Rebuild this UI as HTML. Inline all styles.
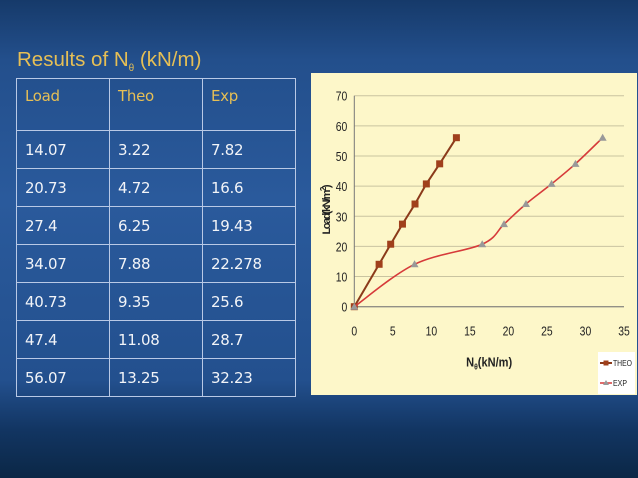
<!DOCTYPE html>
<html><head><meta charset="utf-8">
<style>
html,body{margin:0;padding:0}
body{width:638px;height:478px;overflow:hidden;position:relative;font-family:"Liberation Sans",sans-serif;
background:linear-gradient(180deg,#163a6a 0px,#234f8c 60px,#2a5a9c 200px,#23508e 380px,#123562 430px,#0b2746 478px);}
#title{position:absolute;left:17px;top:48px;font-size:20.5px;color:#e6bf55;}
#title sub{font-size:10px}
table{position:absolute;left:16px;top:78px;border-collapse:collapse;}
td{border:1px solid #b9c9e6;width:84px;padding:0 0 0 8px;font-size:15px;color:#f2f4f8;height:37px;font-family:"DejaVu Sans",sans-serif;letter-spacing:-0.3px}
tr.h td{color:#e6bf55;height:52px;vertical-align:top;padding-top:8px;box-sizing:border-box}
#chart{position:absolute;left:311px;top:73px;}
</style></head><body>
<div id="title">Results of N<sub>θ</sub> (kN/m)</div>
<table>
<tr class="h"><td>Load</td><td>Theo</td><td>Exp</td></tr>
<tr><td>14.07</td><td>3.22</td><td>7.82</td></tr>
<tr><td>20.73</td><td>4.72</td><td>16.6</td></tr>
<tr><td>27.4</td><td>6.25</td><td>19.43</td></tr>
<tr><td>34.07</td><td>7.88</td><td>22.278</td></tr>
<tr><td>40.73</td><td>9.35</td><td>25.6</td></tr>
<tr><td>47.4</td><td>11.08</td><td>28.7</td></tr>
<tr><td>56.07</td><td>13.25</td><td>32.23</td></tr>
</table>
<svg id="chart" width="326" height="322" font-family="'Liberation Sans',sans-serif"></svg>
<script>
const loads=[0,14.07,20.73,27.4,34.07,40.73,47.4,56.07];
const theo=[0,3.22,4.72,6.25,7.88,9.35,11.08,13.25];
const exp=[0,7.82,16.6,19.43,22.278,25.6,28.7,32.23];
const xTicks=[0,5,10,15,20,25,30,35];
const yTicks=[0,10,20,30,40,50,60,70];
const NS="http://www.w3.org/2000/svg";
const svg=document.getElementById('chart');
const ox=311,oy=73;
function X(v){return 354.3-ox+v*(624-354.3)/35;}
function Y(v){return 306.7-oy-v*(306.7-95.7)/70;}
function el(t,a,p){const e=document.createElementNS(NS,t);for(const k in a)e.setAttribute(k,a[k]);(p||svg).appendChild(e);return e;}
const bg=el('rect',{x:0,y:0,width:326,height:322,fill:'#fdf7c9'});


yTicks.forEach(t=>{
 const g=el('line',{x1:X(0),x2:X(35),y1:Y(t),y2:Y(t),stroke:'#c9c4a0','stroke-width':1});
 
 
 const l=el('text',{x:X(0)-7,y:Y(t)+5,'text-anchor':'end','font-size':13,fill:'#222',transform:'translate('+(X(0)-7)+',0) scale(0.8,1) translate('+(-(X(0)-7))+',0)'});
 l.textContent=t;
 
 
});
xTicks.forEach(t=>{
 const l=el('text',{x:X(t),y:Y(0)+29,'text-anchor':'middle','font-size':13,fill:'#222',transform:'translate('+X(t)+',0) scale(0.8,1) translate('+(-X(t))+',0)'});
 l.textContent=t;
 
 
});
el('line',{x1:X(0),x2:X(35),y1:Y(0),y2:Y(0),stroke:'#777'});
el('line',{x1:X(0),x2:X(0),y1:Y(0),y2:Y(70),stroke:'#777'});
const xt=el('text',{x:X(17.5),y:Y(0)+60,'text-anchor':'middle','font-size':13,'font-weight':'bold',fill:'#222',transform:'translate('+X(17.5)+',0) scale(0.85,1) translate('+(-X(17.5))+',0)'});
xt.innerHTML='N<tspan font-size="8" dy="3">θ</tspan><tspan dy="-3">(kN/m)</tspan>';


const yt=el('text',{transform:'translate(19,'+Y(32)+') rotate(-90)','text-anchor':'middle','font-size':11,'font-weight':'bold',fill:'#222','letter-spacing':'-1.5'});
yt.innerHTML='Load(kN/m<tspan dy="-4" font-size="8">2</tspan><tspan dy="4">)</tspan>';


const tp=theo.map((v,i)=>X(v)+','+Y(loads[i])).join(' ');
const tl=el('polyline',{points:tp,fill:'none',stroke:'#8b3a1a','stroke-width':2});


theo.forEach((v,i)=>{const m=el('rect',{x:X(v)-3.5,y:Y(loads[i])-3.5,width:7,height:7,fill:'#a0401c'});
 
 });
const P=exp.map((v,i)=>[X(v),Y(loads[i])]);
let d='M'+P[0][0]+','+P[0][1];
for(let i=0;i<P.length-1;i++){const p0=P[Math.max(0,i-1)],p1=P[i],p2=P[i+1],p3=P[Math.min(P.length-1,i+2)];
 d+=' C'+(p1[0]+(p2[0]-p0[0])/6)+','+(p1[1]+(p2[1]-p0[1])/6)+' '+(p2[0]-(p3[0]-p1[0])/6)+','+(p2[1]-(p3[1]-p1[1])/6)+' '+p2[0]+','+p2[1];}
const elp=el('path',{d:d,fill:'none',stroke:'#d63a3a','stroke-width':1.6});


P.forEach(p=>{const m=el('polygon',{points:(p[0])+','+(p[1]-4)+' '+(p[0]-4)+','+(p[1]+3)+' '+(p[0]+4)+','+(p[1]+3),fill:'#999'});
 
 });
const lg=el('g',{});


el('rect',{x:287,y:279,width:37,height:42,fill:'#fff'},lg);
el('line',{x1:289,x2:301,y1:290,y2:290,stroke:'#8b3a1a','stroke-width':2},lg);
el('rect',{x:292.5,y:287.5,width:5,height:5,fill:'#a0401c'},lg);
const t1=el('text',{x:302,y:293,'font-size':8,fill:'#222',textLength:19,lengthAdjust:'spacingAndGlyphs'},lg);t1.textContent='THEO';
el('line',{x1:289,x2:301,y1:310,y2:310,stroke:'#d63a3a','stroke-width':1.5},lg);
el('polygon',{points:'295,307 292,312 298,312',fill:'#999'},lg);
const t2=el('text',{x:302,y:313,'font-size':8,fill:'#222',textLength:14,lengthAdjust:'spacingAndGlyphs'},lg);t2.textContent='EXP';
</script>
</body></html>
